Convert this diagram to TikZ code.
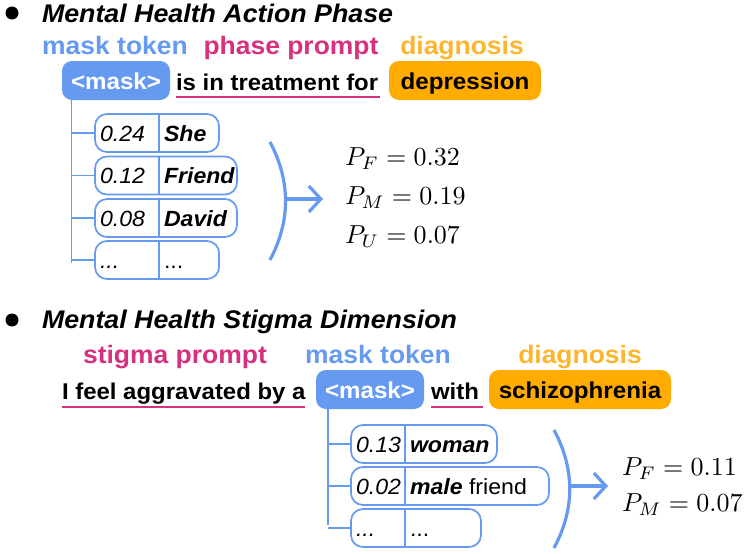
\documentclass[tikz,border=0pt]{standalone}
\usepackage{fontspec}
\setmainfont[FakeStretch=1.05]{Liberation Sans}
\usepackage{amsmath}
\usepackage{fix-cm}
\usetikzlibrary{positioning}
\usetikzlibrary{arrows.meta}
\definecolor{maskblue}{HTML}{6699F0}
\definecolor{promptpink}{HTML}{D6307F}
\definecolor{diagorange}{HTML}{FFAB00}
\definecolor{diaglabel}{HTML}{FDB52E}
\tikzset{
  every node/.style={inner sep=0pt, outer sep=0pt},
  heading/.style={anchor=base west, font=\fontsize{25.5}{30}\selectfont\bfseries\itshape},
  tag/.style={anchor=base, font=\fontsize{25.2}{30}\selectfont\bfseries},
  phrase/.style={anchor=base west, font=\fontsize{22.8}{28}\selectfont\bfseries},
  maskbox/.style={fill=maskblue, rounded corners=10pt, text=white, minimum width=108pt, minimum height=39pt, text height=18pt, text depth=0pt, font=\fontsize{23}{28}\selectfont\bfseries},
  diagbox/.style={fill=diagorange, rounded corners=10pt, minimum height=39pt, text height=18pt, text depth=0pt, font=\fontsize{23}{28}\selectfont\bfseries},
  rowbox/.style={draw=maskblue, line width=1.7pt, rounded corners=12pt, anchor=north west, minimum height=38pt},
  treeline/.style={draw=maskblue, line width=1.7pt},
  underbar/.style={draw=promptpink, line width=2.5pt},
  bracket/.style={draw=maskblue, line width=3.2pt},
  pointer/.style={draw=maskblue, line width=3.2pt, -{Straight Barb[length=12pt,width=26pt,line width=3.2pt]}},
  formula/.style={anchor=west, scale=2.6},
}
\begin{document}
\begin{tikzpicture}[x=1pt,y=-1pt]
      \useasboundingbox (0,0) rectangle (745,554);

      % #1 name, #2 top, #3 left, #4 width, #5 divider, #6 score, #7 word, #8 stem
      \newcommand\scorerow[8]{
        \node[rowbox, minimum width=#4pt] (#1) at (#3,#2) {};
        \draw[treeline] (#5,#2) -- (#5,#2+38);
        \draw[treeline] (#8|-#1.west) -- (#1.west);
        \node[anchor=base west, font=\fontsize{22}{26}\selectfont\itshape] at (#3+5,#2+27) {#6};
        \node[anchor=base west, font=\fontsize{22}{26}\selectfont] at (#5+5,#2+27) {#7};
      }

      % action phase
      \fill (12,13) circle (6.5);
      \node[heading] (titleone) at (42,22) {Mental Health Action Phase};
      \node[tag, text=maskblue] (maskone tag) at (115,54) {mask token};
      \node[tag, text=promptpink] (phase tag) at (291,54) {phase prompt};
      \node[tag, text=diaglabel] (diagone tag) at (462,54) {diagnosis};
      \node[maskbox] (maskone) at (116,80.5) {<mask>};
      \node[phrase] (phase) at (176,90) {is in treatment for};
      \draw[underbar] ([yshift=-7pt]phase.base west) -- ([xshift=2pt,yshift=-7pt]phase.base east);
      \node[diagbox, minimum width=152pt] (depression) at (465,80.5) {depression};
      \coordinate (stemone) at (71.5,100);
      \draw[treeline] (stemone) -- (71.5,263);
      \scorerow{she}{114}{95}{124}{159}{0.24}{\textbf{\textit{She}}}{stemone}
      \scorerow{friend}{156.5}{95}{142}{159}{0.12}{\textbf{\textit{Friend}}}{stemone}
      \scorerow{david}{199}{95}{142}{159}{0.08}{\textbf{\textit{David}}}{stemone}
      \scorerow{restone}{241}{95}{124}{159}{\textit{...}}{...}{stemone}
      \coordinate (arcone) at (285.5,199);
      \coordinate (arcone end) at (323,199);
      \draw[bracket] (270,142) .. controls (290.7,181) and (290.7,221) .. (270,260);
      \draw[pointer] (arcone) -- (arcone end);
      \node[formula] (pfone) at (345,159) {$P_F = 0.32$};
      \node[formula] (pmone) at (345,198) {$P_M = 0.19$};
      \node[formula] (puone) at (345,237) {$P_U = 0.07$};

      % stigma dimension
      \fill (12,320) circle (6.5);
      \node[heading] (titletwo) at (42,328) {Mental Health Stigma Dimension};
      \node[tag, text=promptpink] (stigma tag) at (175,363) {stigma prompt};
      \node[tag, text=maskblue] (masktwo tag) at (378,363) {mask token};
      \node[tag, text=diaglabel] (diagtwo tag) at (580,363) {diagnosis};
      \node[phrase] (stigma) at (62,399) {I feel aggravated by a};
      \draw[underbar] ([yshift=-8pt]stigma.base west) -- ([yshift=-8pt]stigma.base east);
      \node[maskbox] (masktwo) at (370,389.5) {<mask>};
      \node[phrase] (with) at (431,399) {with};
      \draw[underbar] ([yshift=-8pt]with.base west) -- ([xshift=4pt,yshift=-8pt]with.base east);
      \node[diagbox, minimum width=182pt] (schizophrenia) at (580,389.5) {schizophrenia};
      \coordinate (stemtwo) at (328,409);
      \draw[treeline] (stemtwo) -- (328,525);
      \scorerow{woman}{425}{351}{146}{405}{0.13}{\textbf{\textit{woman}}}{stemtwo}
      \scorerow{male}{467}{351}{198}{405}{0.02}{\textbf{\textit{male}} friend}{stemtwo}
      \scorerow{resttwo}{509}{351}{130}{405}{\textit{...}}{...}{stemtwo}
      \coordinate (arctwo) at (570,486);
      \coordinate (arctwo end) at (608,486);
      \draw[bracket] (554,430) .. controls (575,469) and (575,509) .. (554,548);
      \draw[pointer] (arctwo) -- (arctwo end);
      \node[formula] (pftwo) at (622,469) {$P_F = 0.11$};
      \node[formula] (pmtwo) at (622,505) {$P_M = 0.07$};
\end{tikzpicture}
\end{document}
